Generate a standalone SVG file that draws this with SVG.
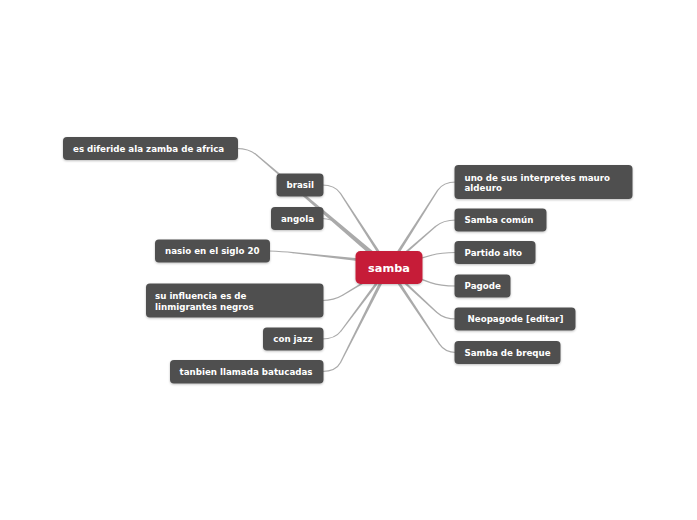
<svg xmlns="http://www.w3.org/2000/svg" width="697" height="520" viewBox="0 0 697 520">
<defs>
<filter id="sh" x="-10%" y="-20%" width="120%" height="150%">
<feDropShadow dx="0" dy="1" stdDeviation="1.2" flood-color="#000" flood-opacity="0.25"/>
</filter>
<style>
.n rect{fill:#4f4f4f;filter:url(#sh)}
.n text{fill:#fff;font-family:"DejaVu Sans",Verdana,sans-serif;font-weight:bold;font-size:8.7px}
.root rect{fill:#c61f37;filter:url(#sh)}
.root text{fill:#fff;font-family:"DejaVu Sans",Verdana,sans-serif;font-weight:bold;font-size:11.3px;text-anchor:middle}
.c polygon{fill:#aaaaaa}
.c path{fill:none;stroke:#aaaaaa;stroke-width:1.2;stroke-linecap:round}
</style>
</defs>
<rect width="697" height="520" fill="#ffffff"/>
<g id="connectors" class="c">
<polygon points="390.12,265.60 257.00,154.53 256.22,155.45 386.88,269.40"/>
<path d="M256.61,154.99 Q249,148.5 237,148.5"/>
<polygon points="389.82,266.65 340.94,193.06 339.94,193.72 387.18,268.35"/>
<path d="M340.44,193.39 Q335,185 322,185"/>
<polygon points="389.36,266.51 339.94,224.60 339.16,225.50 387.64,268.49"/>
<path d="M339.55,225.05 Q332,218.5 322,218.5"/>
<polygon points="388.68,261.35 293.01,251.98 292.87,253.18 388.32,264.65"/>
<path d="M292.94,252.58 Q283,251.5 269,251"/>
<polygon points="387.88,266.48 342.25,294.81 342.87,295.83 389.12,268.52"/>
<path d="M342.56,295.32 Q334,300.5 322,300.5"/>
<polygon points="387.32,266.62 340.51,330.63 341.47,331.35 389.68,268.38"/>
<path d="M340.99,330.99 Q335,339 322,339"/>
<polygon points="386.92,266.70 339.97,362.30 341.05,362.84 390.08,268.30"/>
<path d="M340.51,362.57 Q336,371.5 322,371.5"/>
<polygon points="389.86,268.37 438.14,190.75 437.12,190.11 387.14,266.63"/>
<path d="M437.63,190.43 Q443,182 456,182"/>
<polygon points="389.35,268.47 435.85,227.02 435.07,226.12 387.65,266.53"/>
<path d="M435.46,226.57 Q443,220 456,220"/>
<polygon points="388.80,268.55 431.54,255.83 431.22,254.67 388.20,266.45"/>
<path d="M431.38,255.25 Q441,252.5 456,252.5"/>
<polygon points="388.13,268.53 430.39,283.19 430.79,282.06 388.87,266.47"/>
<path d="M430.59,282.62 Q440,286 456,286"/>
<polygon points="387.60,268.47 436.26,312.64 437.08,311.76 389.40,266.53"/>
<path d="M436.67,312.20 Q444,319 456,319"/>
<polygon points="387.16,268.39 438.97,344.51 439.97,343.85 389.84,266.61"/>
<path d="M439.47,344.18 Q445,352.5 456,352.5"/>
</g>
<g id="node-samba" class="root">
<rect x="355.5" y="251" width="67" height="33" rx="5"/>
<text x="389" y="271.5">samba</text>
</g>
<g id="node-es-diferide" class="n">
<rect x="63" y="137" width="175" height="23" rx="4"/>
<text x="73" y="151.5">es diferide ala zamba de africa</text>
</g>
<g id="node-brasil" class="n">
<rect x="276.5" y="173.5" width="47" height="23" rx="4"/>
<text x="286.5" y="188">brasil</text>
</g>
<g id="node-angola" class="n">
<rect x="271" y="207" width="52.5" height="23" rx="4"/>
<text x="281" y="221.5">angola</text>
</g>
<g id="node-nasio" class="n">
<rect x="155" y="239.5" width="115" height="23" rx="4"/>
<text x="165" y="254">nasio en el siglo 20</text>
</g>
<g id="node-su-influencia" class="n">
<rect x="146" y="283.5" width="177.5" height="34" rx="4"/>
<text x="155" y="299">su influencia es de</text>
<text x="155" y="309.5">linmigrantes negros</text>
</g>
<g id="node-con-jazz" class="n">
<rect x="263" y="327.5" width="60.5" height="23" rx="4"/>
<text x="273.3" y="342">con jazz</text>
</g>
<g id="node-tanbien" class="n">
<rect x="170" y="360" width="153.5" height="23.5" rx="4"/>
<text x="179.5" y="374.7">tanbien llamada batucadas</text>
</g>
<g id="node-uno-de-sus" class="n">
<rect x="454.5" y="165" width="178" height="34" rx="4"/>
<text x="464.5" y="180.5">uno de sus interpretes mauro</text>
<text x="464.5" y="191">aldeuro</text>
</g>
<g id="node-samba-comun" class="n">
<rect x="454.5" y="208.5" width="92" height="23" rx="4"/>
<text x="464.5" y="223">Samba común</text>
</g>
<g id="node-partido-alto" class="n">
<rect x="454.5" y="241" width="81" height="23" rx="4"/>
<text x="464.5" y="255.5">Partido alto</text>
</g>
<g id="node-pagode" class="n">
<rect x="454.5" y="274.5" width="56" height="23" rx="4"/>
<text x="464.5" y="289">Pagode</text>
</g>
<g id="node-neopagode" class="n">
<rect x="454.5" y="307.5" width="121" height="23" rx="4"/>
<text x="467.5" y="322">Neopagode [editar]</text>
</g>
<g id="node-samba-de-breque" class="n">
<rect x="454.5" y="341" width="106" height="23" rx="4"/>
<text x="464.5" y="355.5">Samba de breque</text>
</g>
</svg>
